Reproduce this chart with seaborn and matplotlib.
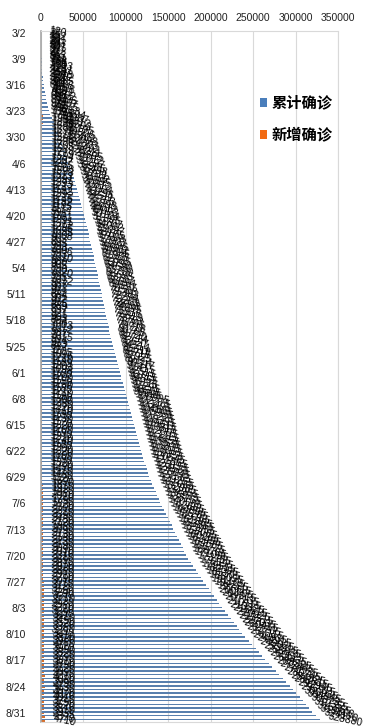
import pandas as pd
import matplotlib
matplotlib.use("Agg")
import matplotlib.pyplot as plt
from matplotlib.patches import Patch
import seaborn as sns

# dates 3/2 .. 9/2
dates = [f"{d.month}/{d.day}" for d in pd.date_range("2020-03-02", "2020-09-02")]

total_cases = [
    # March
    120, 152, 191, 243, 301, 372, 463, 601, 784, 1003, 1251, 1548, 1902, 2405, 3006,
    3708, 4511, 5402, 6296, 7207, 8115, 9213, 11004, 12987, 14812, 16503, 18195, 19806,
    21402, 23098,
    # April
    24803, 26492, 28211, 29805, 31012, 32297, 33905, 35498, 37011, 38302, 39595, 40812,
    42004, 43296, 44511, 45703, 46898, 48012, 49003, 50104, 51395, 52707, 54002, 55097,
    56105, 57008, 57903, 58896, 59902, 60895,
    # May
    61905, 62885, 63790, 64680, 65700, 66695, 67707, 68694, 69597, 70508, 71392, 72294,
    73209, 74098, 74995, 75916, 76819, 77703, 78706, 79718, 80705, 81720, 82714, 83627,
    84514, 85619, 86715, 87925, 89114, 90317, 91415,
    # June
    92515, 93715, 94865, 96115, 97295, 98505, 99695, 100995, 102275, 103495, 104805,
    105995, 107225, 108395, 109615, 110815, 112005, 113215, 114455, 115635, 116835,
    118055, 119355, 120545, 121865, 123155, 124565, 126045, 127565, 129255,
    # July
    131065, 132985, 134965, 136975, 138765, 140585, 142685, 144895, 147285, 149765,
    151885, 153865, 155955, 158085, 160265, 162495, 164685, 166775, 168785, 171095,
    173785, 176595, 179515, 182395, 185305, 188095, 191105, 194225, 197415, 200705,
    204015,
    # August
    207135, 210115, 213325, 216615, 220025, 223515, 227035, 230415, 233705, 237115,
    240935, 244915, 249025, 253015, 256835, 260625, 264435, 268325, 272445, 276535,
    280745, 284825, 288815, 292945, 296915, 300935, 304945, 308735, 312355, 315865,
    319800,
    # September
    324170, 328880,
]

new_cases = [
    # March
    25, 32, 39, 52, 58, 71, 91, 138, 183, 219, 248, 297, 354, 503, 601, 702, 803, 891,
    894, 911, 908, 1098, 1791, 1983, 1825, 1691, 1692, 1611, 1596, 1696,
    # April
    1705, 1689, 1719, 1594, 1207, 1285, 1608, 1593, 1513, 1291, 1293, 1217, 1192, 1292,
    1215, 1192, 1195, 1114, 991, 1101, 1291, 1312, 1295, 1095, 1008, 903, 895, 993,
    1006, 993,
    # May
    1010, 980, 905, 890, 1020, 995, 1012, 987, 903, 911, 884, 902, 915, 889, 897, 921,
    903, 884, 1003, 1012, 987, 1015, 994, 913, 887, 1105, 1096, 1210, 1189, 1203, 1098,
    # June
    1100, 1200, 1150, 1250, 1180, 1210, 1190, 1300, 1280, 1220, 1310, 1190, 1230, 1170,
    1220, 1200, 1190, 1210, 1240, 1180, 1200, 1220, 1300, 1190, 1320, 1290, 1410, 1480,
    1520, 1690,
    # July
    1810, 1920, 1980, 2010, 1790, 1820, 2100, 2210, 2390, 2480, 2120, 1980, 2090, 2130,
    2180, 2230, 2190, 2090, 2010, 2310, 2690, 2810, 2920, 2880, 2910, 2790, 3010, 3120,
    3190, 3290, 3310,
    # August
    3120, 2980, 3210, 3290, 3410, 3490, 3520, 3380, 3290, 3410, 3820, 3980, 4110, 3990,
    3820, 3790, 3810, 3890, 4120, 4090, 4210, 4080, 3990, 4130, 3970, 4020, 4010, 3790,
    3620, 3510, 3935,
    # September
    4370, 4710,
]

series_names = ["累计确诊", "新增确诊"]
colors = ["#4a7ebb", "#f26a12"]
x_ticks = [0, 50000, 100000, 150000, 200000, 250000, 300000, 350000]

df = pd.DataFrame({
    "date": dates * 2,
    "value": total_cases + new_cases,
    "series": [series_names[0]] * len(dates) + [series_names[1]] * len(dates),
})

plt.rcParams["font.family"] = ["Liberation Sans", "Noto Sans CJK SC", "DejaVu Sans"]

fig = plt.figure(figsize=(3.7, 7.28), dpi=100)
ax = fig.add_axes([41 / 370, 1 - 722 / 728, 297 / 370, 691 / 728])

sns.barplot(data=df, y="date", x="value", hue="series", order=dates,
            hue_order=series_names, palette=colors, orient="h", width=0.8,
            linewidth=0, legend=False, ax=ax)

# data labels on every bar
for cont in ax.containers:
    ax.bar_label(cont, fmt="%d", padding=5, fontsize=7.5, rotation=-12,
                 color="black")

ax.set_xlim(0, 350000)
ax.set_xticks(x_ticks)
ax.set_xticklabels([str(t) for t in x_ticks])
ax.xaxis.tick_top()
ax.set_yticks(range(0, len(dates), 7))
ax.set_yticklabels(dates[::7])
ax.tick_params(axis="both", length=0, labelsize=7.5, colors="#222222")
ax.tick_params(axis="x", pad=6)
ax.tick_params(axis="y", pad=11)
ax.set_xlabel("")
ax.set_ylabel("")

ax.grid(axis="x", color="#d9d9d9", linewidth=0.8)
ax.set_axisbelow(True)
for side in ["top", "right", "bottom"]:
    ax.spines[side].set_color("#d9d9d9")
    ax.spines[side].set_linewidth(0.8)
ax.spines["left"].set_color("#a6a6a6")
ax.spines["left"].set_linewidth(1.2)

handles = [Patch(facecolor=c, edgecolor="none") for c in colors]
ax.legend(handles, series_names, loc="upper left",
          bbox_to_anchor=(252 / 370, 1 - 87 / 728), bbox_transform=fig.transFigure,
          frameon=False, borderpad=0, handlelength=0.5, handleheight=0.5,
          handletextpad=0.25, labelspacing=1.05,
          prop={"family": ["Noto Sans CJK SC"], "weight": "bold", "size": 11})

fig.savefig("out.png", dpi=100)
